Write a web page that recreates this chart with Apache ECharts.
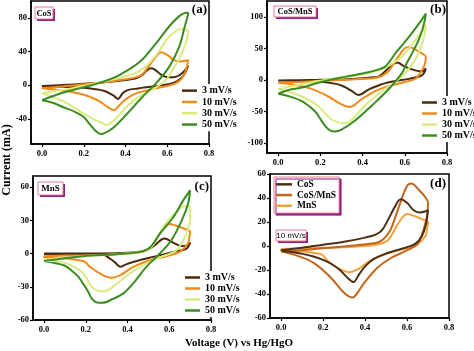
<!DOCTYPE html>
<html><head><meta charset="utf-8">
<script src="https://cdn.jsdelivr.net/npm/echarts@6/dist/echarts.min.js"></script>
<style>html,body{margin:0;padding:0;background:#fff}#c{width:474px;height:351px}</style>
</head><body><div id="c"></div><script>
// ---- data ----
const rates = ['3 mV/s', '10 mV/s', '30 mV/s', '50 mV/s'];
const samples = ['CoS', 'CoS/MnS', 'MnS'];
const xTicks = [0, 0.2, 0.4, 0.6, 0.8];
const yTicksA = [-40, 0, 40, 80];
const yTicksB = [-100, -50, 0, 50, 100];
const yTicksC = [-60, -30, 0, 30, 60];
const yTicksD = [-60, -40, -20, 0, 20, 40, 60];

// (a) CoS  [voltage V, current mA]
const cos3 = [[0,-1],[0.1,0],[0.2,1.5],[0.3,3.5],[0.4,6],[0.45,8],[0.48,12],[0.5,17],[0.52,20],[0.54,18.5],[0.57,12.5],[0.6,9.5],[0.63,9.5],[0.66,12],[0.69,19],[0.7,23],[0.68,12],[0.65,5],[0.62,2],[0.58,0],[0.52,-2],[0.46,-4],[0.41,-6],[0.385,-10],[0.365,-16.5],[0.34,-12],[0.3,-7],[0.25,-4.5],[0.2,-3],[0.1,-2],[0,-1.5],[0,-1]];
const cos10 = [[0,-3.5],[0.1,-1.5],[0.2,1],[0.3,3.5],[0.4,7],[0.45,9.5],[0.48,13],[0.51,22],[0.54,32],[0.57,39],[0.6,36],[0.63,30],[0.66,28],[0.69,29],[0.7,30],[0.69,18],[0.67,8],[0.64,2],[0.6,-1],[0.55,-3.5],[0.49,-7],[0.44,-11],[0.4,-17],[0.37,-24],[0.345,-30],[0.32,-27],[0.28,-20],[0.24,-15],[0.2,-11.5],[0.15,-8.5],[0.1,-6.5],[0.05,-5],[0,-3.8],[0,-3.5]];
const cos30 = [[0,-10],[0.06,-7],[0.12,-4.8],[0.2,-1],[0.28,3],[0.36,8],[0.44,13.5],[0.48,19],[0.52,28],[0.56,40],[0.6,55],[0.63,62],[0.66,66.5],[0.69,66],[0.7,64],[0.695,55],[0.68,44],[0.66,33],[0.64,24],[0.6,8],[0.55,-2],[0.5,-9],[0.45,-16],[0.4,-27],[0.36,-38],[0.33,-45],[0.31,-47.5],[0.28,-44],[0.25,-41],[0.2,-34],[0.15,-26],[0.1,-19],[0.05,-14],[0,-10]];
const cos50 = [[0,-18],[0.087,-10],[0.2,-2.4],[0.28,3],[0.37,12],[0.47,28],[0.547,50],[0.61,70],[0.658,82],[0.69,86],[0.7,85.5],[0.69,75],[0.68,66],[0.658,46],[0.61,22],[0.547,2.4],[0.483,-13.5],[0.404,-35],[0.34,-51],[0.3,-57],[0.28,-58],[0.26,-55],[0.23,-47],[0.2,-38],[0.16,-32],[0.1,-26],[0.05,-21],[0,-18]];

// (b) CoS/MnS
const cm3 = [[0,-1],[0.1,-0.5],[0.19,0],[0.35,1.5],[0.45,4],[0.48,6],[0.515,16],[0.54,24],[0.563,27.5],[0.6,21],[0.65,15],[0.68,13.5],[0.7,18],[0.69,10],[0.675,6],[0.62,1.5],[0.555,-2],[0.5,-6],[0.475,-9],[0.43,-15],[0.38,-24],[0.35,-18],[0.33,-14],[0.3,-9],[0.267,-6],[0.19,-2.6],[0.1,-1.6],[0,-1]];
const cm10 = [[0,-4.7],[0.1,-3.5],[0.187,-2],[0.35,0.5],[0.45,2.5],[0.475,4],[0.5,8],[0.523,14],[0.55,27],[0.57,37],[0.6,50],[0.62,52],[0.66,46],[0.69,40],[0.7,36],[0.695,25],[0.683,16],[0.665,7],[0.65,1.5],[0.587,-4.7],[0.523,-10],[0.46,-18],[0.395,-31],[0.36,-40],[0.34,-43],[0.3,-39],[0.235,-26],[0.155,-14],[0.075,-8],[0,-4.7]];
const cm30 = [[0,-15],[0.05,-11],[0.107,-7.3],[0.17,-3],[0.235,0.5],[0.32,4.5],[0.395,8.4],[0.46,13],[0.507,19],[0.55,28],[0.587,37],[0.62,50],[0.65,63],[0.69,81],[0.7,87],[0.695,75],[0.685,60],[0.67,47],[0.65,32],[0.6,10],[0.54,-7],[0.5,-16],[0.46,-26],[0.42,-38],[0.38,-52],[0.35,-63],[0.315,-69],[0.28,-67],[0.25,-62],[0.22,-52],[0.187,-41],[0.15,-33],[0.107,-25.6],[0.05,-19],[0,-15]];
const cm50 = [[0,-22],[0.05,-16],[0.107,-12.5],[0.2,-3.7],[0.315,4.7],[0.427,12],[0.48,17],[0.507,21],[0.53,30],[0.555,42],[0.59,56],[0.62,68],[0.667,89],[0.7,105],[0.695,95],[0.683,79],[0.665,63],[0.643,47.5],[0.61,27],[0.587,11],[0.523,-15],[0.443,-41],[0.363,-65],[0.3,-79],[0.27,-82],[0.245,-80],[0.22,-72],[0.2,-62],[0.18,-52],[0.155,-44],[0.107,-33],[0.05,-26],[0,-22]];

// (c) MnS
const mns3 = [[0,0],[0.267,0],[0.427,1],[0.49,3],[0.52,6],[0.54,9],[0.576,13.5],[0.62,9.7],[0.66,6.7],[0.69,7.6],[0.7,10],[0.683,4.5],[0.62,1.5],[0.523,-3],[0.427,-7.6],[0.39,-10],[0.366,-12],[0.34,-8],[0.315,-4.5],[0.283,-1],[0.187,-0.6],[0,-0.6],[0,0]];
const mns10 = [[0,-2.4],[0.187,-1.5],[0.347,-0.6],[0.46,1.2],[0.507,4.5],[0.53,10],[0.555,18],[0.6,26.7],[0.65,24],[0.69,21],[0.7,19.7],[0.695,14],[0.69,9],[0.65,1.5],[0.587,-2.4],[0.507,-6],[0.427,-12],[0.363,-19.7],[0.323,-21.8],[0.267,-18],[0.22,-12],[0.2,-8],[0.187,-6.7],[0.107,-4.5],[0,-3.6],[0,-2.4]];
const mns30 = [[0,-5.5],[0.187,-2.4],[0.347,-0.6],[0.475,2],[0.515,6],[0.54,13],[0.57,24],[0.6,31],[0.635,38],[0.66,42],[0.683,43],[0.7,42],[0.7,30],[0.69,22],[0.675,15],[0.635,3],[0.57,-2.4],[0.49,-9],[0.41,-18],[0.33,-30],[0.29,-34],[0.267,-34],[0.24,-32],[0.22,-28],[0.2,-21],[0.17,-15],[0.107,-9],[0,-5.5]];
const mns50 = [[0,-6.7],[0.187,-2.4],[0.347,-0.6],[0.46,1.5],[0.507,5.5],[0.555,18],[0.62,33],[0.667,48],[0.7,57],[0.69,45],[0.66,30],[0.61,12],[0.555,0],[0.49,-12],[0.427,-27],[0.38,-36],[0.33,-41],[0.28,-44.5],[0.25,-44],[0.23,-41],[0.21,-34],[0.19,-28],[0.165,-21],[0.13,-15],[0.1,-11],[0.05,-8.5],[0,-6.7]];

// ---- styling ----
const rateColors = ['#4a2b0e', '#f28a1a', '#d9ec80', '#3b8c21'];
const sampleColors = ['#4e3015', '#c2661c', '#f3a23a'];
const SERIF = "'Liberation Serif', 'DejaVu Serif', serif";

const grids = [
  {left: 31, top: 1, width: 178, height: 143},
  {left: 267, top: 1, width: 180, height: 152},
  {left: 33, top: 176, width: 178, height: 144},
  {left: 270, top: 174, width: 179, height: 144}
];
const yRanges = [[-70, 100], [-116, 125], [-60, 70], [-60, 60]];
const yTicks = [yTicksA, yTicksB, yTicksC, yTicksD];

const lblStyle = {fontFamily: SERIF, fontWeight: 'bold', fontSize: 8.5, color: '#000'};
const axLine = {show: true, onZero: false, lineStyle: {color: '#000', width: 1.5}};

const xAxis = grids.map((g, i) => ({
  type: 'value', gridIndex: i, min: -0.053, max: 0.8,
  axisLine: axLine, splitLine: {show: false},
  axisTick: {show: true, inside: false, length: 3, customValues: xTicks, lineStyle: {color: '#000', width: 1.2}},
  axisLabel: Object.assign({customValues: xTicks, margin: 5, formatter: v => v.toFixed(1)}, lblStyle)
}));
const yAxis = grids.map((g, i) => ({
  type: 'value', gridIndex: i, min: yRanges[i][0], max: yRanges[i][1],
  axisLine: axLine, splitLine: {show: false},
  axisTick: {show: true, inside: false, length: 3, customValues: yTicks[i], lineStyle: {color: '#000', width: 1.2}},
  axisLabel: Object.assign({customValues: yTicks[i], margin: 4, formatter: v => String(v)}, lblStyle)
}));

const panelData = [[cos3, cos10, cos30, cos50], [cm3, cm10, cm30, cm50], [mns3, mns10, mns30, mns50]];
const series = [];
panelData.forEach((arrs, p) => {
  arrs.forEach((d, k) => {
    series.push({type: 'line', name: rates[k], xAxisIndex: p, yAxisIndex: p, data: d,
      smooth: 0.35, symbol: 'none', lineStyle: {color: rateColors[k], width: 2}, itemStyle: {color: rateColors[k]}, z: 2 + k});
  });
});
[cos10, cm10, mns10].forEach((d, k) => {
  series.push({type: 'line', name: samples[k], xAxisIndex: 3, yAxisIndex: 3, data: d,
    smooth: 0.35, symbol: 'none', lineStyle: {color: sampleColors[k], width: 2}, itemStyle: {color: sampleColors[k]}, z: 5 - k});
});

function rateLegend(left, top, gap) {
  return {data: rates, left: left, top: top, orient: 'vertical', icon: 'rect', itemWidth: 15, itemHeight: 2.5,
    itemGap: 0, backgroundColor: '#fff', padding: [1, 2, 1, 1], selectedMode: false,
    textStyle: {fontFamily: SERIF, fontWeight: 'bold', fontSize: 10, color: '#000', lineHeight: gap}};
}

function tagBox(x, y, w, h, text, font) {
  return {type: 'group', children: [
    {type: 'rect', shape: {x: x + 2, y: y + 2, width: w, height: h}, style: {fill: '#8b1f86'}},
    {type: 'rect', shape: {x: x, y: y, width: w, height: h}, style: {fill: '#fff', stroke: '#e47a8e', lineWidth: 1}},
    {type: 'text', x: x + w / 2, y: y + h / 2 + 0.5, style: Object.assign({text: text, fill: '#000', align: 'center', verticalAlign: 'middle'}, font)}
  ]};
}
const tagFont = {font: "bold 8.5px 'Liberation Serif'"};
function letter(x, y, t) {
  return {type: 'text', x: x, y: y, style: {text: t, font: "bold 13px 'Liberation Serif'", fill: '#000', align: 'right', verticalAlign: 'middle'}};
}

const chart = echarts.init(document.getElementById('c'), null, {renderer: 'canvas'});
chart.setOption({
  animation: false,
  backgroundColor: '#fff',
  grid: grids.map(g => Object.assign({show: true, borderColor: '#000', borderWidth: 1.5, backgroundColor: 'transparent', containLabel: false}, g)),
  xAxis: xAxis,
  yAxis: yAxis,
  legend: [
    rateLegend(181, 84, 11.3),
    rateLegend(421, 96, 11),
    rateLegend(184, 271, 11),
    {data: samples, left: 274, top: 177, orient: 'vertical', icon: 'rect', itemWidth: 16, itemHeight: 2.5,
      itemGap: 0, backgroundColor: '#fff', borderColor: '#e47a8e', borderWidth: 1, padding: [2, 3, 2, 2],
      shadowColor: '#8b1f86', shadowOffsetX: 2, shadowOffsetY: 2, shadowBlur: 0, selectedMode: false,
      textStyle: {fontFamily: SERIF, fontWeight: 'bold', fontSize: 9.5, color: '#000', lineHeight: 10.7}}
  ],
  series: series,
  graphic: [
    tagBox(35, 7, 18, 12, 'CoS', tagFont),
    tagBox(274, 6, 42, 11, 'CoS/MnS', tagFont),
    tagBox(38, 182, 25, 13, 'MnS', {font: "bold 9px 'Liberation Serif'"}),
    tagBox(276, 230, 30, 11, '10 mV/s', {font: "8px 'Liberation Sans'"}),
    letter(207, 10, '(a)'),
    letter(446, 10, '(b)'),
    letter(209, 187, '(c)'),
    letter(446, 184, '(d)'),
    {type: 'text', x: 7, y: 160, rotation: Math.PI / 2, style: {text: 'Current (mA)', font: "bold 12px 'Liberation Serif'", fill: '#000', align: 'center', verticalAlign: 'middle'}},
    {type: 'text', x: 239, y: 343, style: {text: 'Voltage (V) vs Hg/HgO', font: "bold 11px 'Liberation Serif'", fill: '#000', align: 'center', verticalAlign: 'middle'}}
  ]
});
</script></body></html>
